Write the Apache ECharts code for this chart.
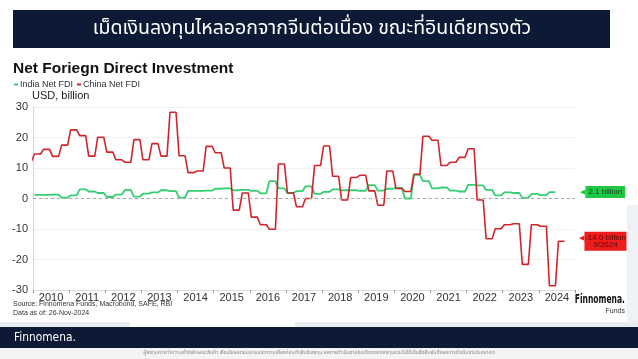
<!DOCTYPE html>
<html>
<head>
<meta charset="utf-8">
<script src="https://cdn.jsdelivr.net/npm/echarts@6/dist/echarts.min.js"></script>
<style>
html,body{margin:0;padding:0;background:#ffffff;}
#chart{width:638px;height:359px;}
</style>
</head>
<body>
<div id="chart"></div>
<script>
// ---- data (USD billion, quarterly) ----
var years = ['2010','2011','2012','2013','2014','2015','2016','2017','2018','2019','2020','2021','2022','2023','2024'];
var yTicks = [-30, -20, -10, 0, 10, 20, 30];
var chinaPrev = 12.2; // Q4 2009
var chinaNetFDI = [
  14.6, 16.1, 13.8, 17.5,
  22.5, 20.6, 13.9, 20.1,
  15.2, 12.7, 11.9, 19.3,
  12.7, 18.0, 13.9, 28.3,
  14.0, 8.5, 9.0, 17.1,
  15.0, 10.0, -3.8, 1.8,
  -6.1, -8.6, -10.1, 11.3,
  1.8, -2.7, 0.0, 10.8,
  17.2, 7.3, -0.5, 6.9,
  7.6, 2.5, -2.2, 9.0,
  3.3, 2.3, 7.9, 20.4,
  19.1, 10.8, 11.9, 13.5,
  16.3, -0.5, -13.2, -9.9,
  -8.6, -8.3, -21.6, -8.6,
  -9.1, -28.6, -14.0
];
var indiaNetFDI = [
  1.2, 1.2, 1.3, 0.3,
  1.0, 3.0, 2.3, 1.8,
  0.5, 1.3, 2.8, 0.6,
  1.6, 2.0, 2.7, 2.4,
  0.3, 2.5, 2.5, 2.6,
  3.2, 3.3, 2.7, 2.8,
  2.5, 1.7, 5.7, 3.3,
  1.8, 2.4, 4.0, 1.5,
  2.2, 3.0, 2.7, 2.7,
  2.5, 4.4, 2.6, 3.2,
  3.5, 0.0, 7.8, 5.7,
  3.3, 3.6, 2.6, 2.3,
  4.5, 4.3, 2.8, 1.0,
  2.0, 1.8, 0.2, 1.5,
  1.1, 2.1
];
var indiaLabel = '2.1 billion';
var chinaLabel = ['-14.0 billion', '9/2024'];

// monthly points: each quarterly value held for its three months
function toMonthly(q, prev) {
  var out = [];
  if (prev !== undefined) out.push([2010 + (-1 + 0.5) / 12, prev]);
  for (var i = 0; i < q.length; i++) {
    for (var m = 0; m < 3; m++) {
      out.push([2010 + (3 * i + m + 0.5) / 12, q[i]]);
    }
  }
  return out;
}

var FONT = '"Liberation Sans", Arial, sans-serif';
var THAI = '"Noto Sans Thai", "Noto Sans Thai Looped", "Loma", "Tlwg Typo", "Noto Sans", sans-serif';
var LOGO = '"DejaVu Sans", sans-serif';

var chart = echarts.init(document.getElementById('chart'), null, {renderer: 'canvas'});
chart.setOption({
  animation: false,
  backgroundColor: '#ffffff',
  textStyle: {fontFamily: FONT},
  grid: {left: 33, right: 63, top: 107, bottom: 69, containLabel: false},
  legend: {
    left: 14, top: 80, padding: 0, itemGap: 4,
    itemWidth: 4, itemHeight: 2, icon: 'rect',
    textStyle: {fontSize: 9, color: '#333', fontFamily: FONT, padding: [0,0,0,-3]},
    data: ['India Net FDI', 'China Net FDI']
  },
  xAxis: [
    {type: 'value', min: 2010, max: 2025, show: false},
    {type: 'category', data: years, boundaryGap: true, position: 'bottom',
     axisLine: {show: true, lineStyle: {color: '#dddddd', width: 1}},
     axisTick: {show: true, length: 3, lineStyle: {color: '#999'}},
     axisLabel: {fontSize: 11, color: '#333', margin: 2, fontFamily: FONT},
     splitLine: {show: false}}
  ],
  yAxis: {
    type: 'value', min: -30, max: 30, interval: 10,
    axisLine: {show: true, lineStyle: {color: '#d6d6d6'}},
    axisTick: {show: false},
    axisLabel: {fontSize: 11, color: '#333', margin: 5, fontFamily: FONT},
    splitLine: {show: true, lineStyle: {color: '#f1f1f1', width: 1}}
  },
  series: [
    {
      name: 'India Net FDI', type: 'line', xAxisIndex: 0,
      data: toMonthly(indiaNetFDI), showSymbol: false, symbol: 'none',
      color: '#35cf72',
      lineStyle: {color: '#35cf72', width: 1.8},
      z: 3,
      endLabel: {
        show: true, distance: 25,
        formatter: function(){ return '{a|◀}{b|' + indiaLabel + '}'; },
        rich: {
          a: {color: '#1fc844', fontSize: 7, padding: [0,0,0,0]},
          b: {color: '#0f3a1a', fontSize: 8, backgroundColor: '#1fc844', padding: [2,3,2,3], fontFamily: FONT}
        }
      },
      markLine: {
        silent: true, symbol: 'none', label: {show: false},
        lineStyle: {color: '#a8a8a8', type: [3,3], width: 1},
        data: [{yAxis: 0}]
      }
    },
    {
      name: 'China Net FDI', type: 'line', xAxisIndex: 0,
      data: toMonthly(chinaNetFDI, chinaPrev), showSymbol: false, symbol: 'none',
      color: '#d0242a',
      lineStyle: {color: '#d0242a', width: 1.6},
      z: 4,
      endLabel: {
        show: true, distance: 15,
        formatter: function(){
          return '{a|◀}{b|' + chinaLabel[0] + '}\n{s|◀}{c|' + chinaLabel[1] + '}';
        },
        rich: {
          a: {color: '#ee1c1c', fontSize: 7, lineHeight: 9, verticalAlign: 'bottom'},
          s: {color: 'rgba(0,0,0,0)', fontSize: 7, lineHeight: 9},
          b: {color: '#5a0a0a', fontSize: 8, lineHeight: 9, width: 42, align: 'center', backgroundColor: '#ee1c1c', padding: [2,0,0,0], fontFamily: FONT},
          c: {color: '#5a0a0a', fontSize: 8, lineHeight: 9, width: 42, align: 'center', backgroundColor: '#ee1c1c', padding: [0,0,2,0], fontFamily: FONT}
        }
      }
    }
  ],
  graphic: [
    {type: 'rect', shape: {x: 13, y: 10, width: 597, height: 38}, style: {fill: '#0c1a35'}, z: 0},
    {type: 'text', x: 312, y: 30, style: {text: 'เม็ดเงินลงทุนไหลออกจากจีนต่อเนื่อง ขณะที่อินเดียทรงตัว', fill: '#ffffff', font: '19.5px ' + THAI, align: 'center', verticalAlign: 'middle'}},
    {type: 'text', left: 13, top: 61, style: {text: 'Net Foriegn Direct Investment', fill: '#111', font: 'bold 15.5px ' + FONT}},
    {type: 'text', left: 32, top: 90, style: {text: 'USD, billion', fill: '#222', font: '11px ' + FONT}},
    {type: 'text', left: 13, top: 301, style: {text: 'Source: Finnomena Funds, Macrobond, SAFE, RBI', fill: '#333', font: '7px ' + FONT}},
    {type: 'text', left: 13, top: 310, style: {text: 'Data as of: 26-Nov-2024', fill: '#333', font: '7px ' + FONT}},
    {type: 'text', x: 625, y: 294, scaleX: 0.66, style: {text: 'Finnomena.', fill: '#111', font: 'bold 11.5px ' + LOGO, align: 'right', verticalAlign: 'top'}},
    {type: 'text', x: 625, y: 308, style: {text: 'Funds', fill: '#333', font: '7px ' + FONT, align: 'right', verticalAlign: 'top'}},
    {type: 'rect', shape: {x: 627, y: 205, width: 11, height: 118}, style: {fill: '#eef1f5'}, z: 0},
    {type: 'rect', shape: {x: 0, y: 322, width: 130, height: 6}, style: {fill: '#e9edf2'}, z: 0},
    {type: 'rect', shape: {x: 295, y: 322, width: 343, height: 6}, style: {fill: '#e9edf2'}, z: 0},
    {type: 'rect', shape: {x: 0, y: 327, width: 638, height: 21}, style: {fill: '#0c1a35'}, z: 0},
    {type: 'text', x: 14, y: 331, scaleX: 0.85, style: {text: 'Finnomena.', fill: '#ffffff', font: '12.5px ' + LOGO, verticalAlign: 'top'}},
    {type: 'rect', shape: {x: 0, y: 348, width: 638, height: 11}, style: {fill: '#f3f4f6'}, z: 0},
    {type: 'text', left: 'center', top: 350, style: {text: 'ผู้ลงทุนควรทำความเข้าใจลักษณะสินค้า เงื่อนไขผลตอบแทนและความเสี่ยงก่อนตัดสินใจลงทุน ผลการดำเนินงานในอดีตของกองทุนรวมไม่ได้เป็นสิ่งยืนยันถึงผลการดำเนินงานในอนาคต', fill: '#8a8a8a', font: '5px ' + THAI}}
  ]
});
</script>
</body>
</html>
